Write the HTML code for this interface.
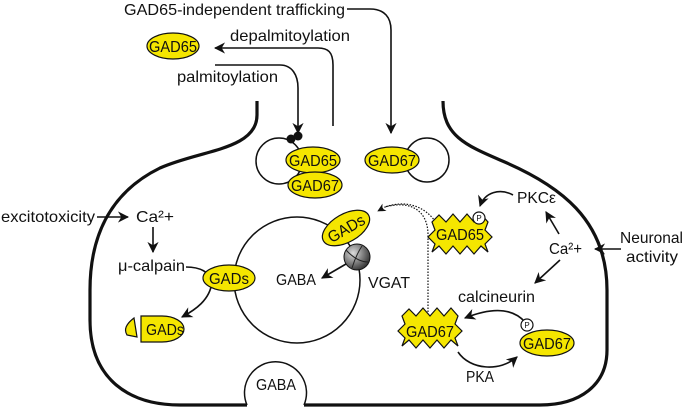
<!DOCTYPE html>
<html><head><meta charset="utf-8"><style>html,body{margin:0;padding:0;background:#fff}svg{display:block}text{font-family:"Liberation Sans",sans-serif;fill:#111}</style></head><body>
<svg width="685" height="408" viewBox="0 0 685 408" xmlns="http://www.w3.org/2000/svg">
<defs>
<marker id="a" viewBox="0 0 10 10" refX="9" refY="5" markerWidth="7" markerHeight="7" orient="auto-start-reverse"><path d="M0,0 L10,5 L0,10 L3,5 z" fill="#111"/></marker>
<radialGradient id="g" cx="0.35" cy="0.35" r="0.7"><stop offset="0" stop-color="#ddd"/><stop offset="1" stop-color="#333"/></radialGradient>
</defs>
<g fill="none" stroke="#111" stroke-width="3.2">
<path d="M257,101 L257,115 C257,150 200,150 160,168 C115,190 90,230 90,290 L90,320 C90,380 130,405 180,405 L247,405"/>
<path d="M304,405 L540,405 C580,405 607,385 607,350 L607,290 C607,220 560,185 500,160 C465,145 443,135 443,101"/>
</g>
<path d="M247,405 A31,31 0 1 1 304,405" fill="none" stroke="#111" stroke-width="1.5"/>
<g fill="none" stroke="#111" stroke-width="1.5">
<circle cx="297" cy="280" r="63"/>
<circle cx="279" cy="161" r="23"/>
<circle cx="427" cy="160" r="22"/>
</g>
<g fill="none" stroke="#111" stroke-width="1.6">
<path d="M347,9 L370,9 C385,9 391,18 391,30 L391,133" marker-end="url(#a)"/>
<path d="M333,126 L333,65 C333,52 328,48 318,48 L215,48" marker-end="url(#a)"/>
<path d="M215,65 L280,65 C292,65 298,75 298,88 L298,133" marker-end="url(#a)"/>
<path d="M97,217 L128,217" marker-end="url(#a)"/>
<path d="M153,227 L153,252" marker-end="url(#a)"/>
<path d="M186,267 C200,267 210,272 212,282 C210,300 195,310 182,317" marker-end="url(#a)"/>
<path d="M346,264 L322,278" marker-end="url(#a)"/>
<path d="M621,249 L595,249" marker-end="url(#a)"/>
<path d="M559,234 L546,212" marker-end="url(#a)"/>
<path d="M560,260 L535,283" marker-end="url(#a)"/>
<path d="M513,195 C500,188 485,192 480,206" marker-end="url(#a)"/>
<path d="M525,322 C510,305 485,310 465,318" marker-end="url(#a)"/>
<path d="M458,352 C470,370 500,372 517,357" marker-end="url(#a)"/>
</g>
<g fill="none" stroke="#111" stroke-width="1.2" stroke-dasharray="1.5,1.5">
<path d="M437,224 C425,205 405,200 385,207"/>
<path d="M428,318 L428,235 C428,210 410,200 385,207 L378,211" marker-end="url(#a)"/>
</g>
<g font-size="16">
<text x="124" y="15" textLength="221" lengthAdjust="spacingAndGlyphs">GAD65-independent trafficking</text>
<text x="230" y="41" textLength="120" lengthAdjust="spacingAndGlyphs">depalmitoylation</text>
<text x="177" y="82" textLength="101" lengthAdjust="spacingAndGlyphs">palmitoylation</text>
<text x="1" y="222" textLength="94" lengthAdjust="spacingAndGlyphs">excitotoxicity</text>
<text x="136" y="222" textLength="38" lengthAdjust="spacingAndGlyphs">Ca²+</text>
<text x="118" y="271" textLength="67" lengthAdjust="spacingAndGlyphs">μ-calpain</text>
<text x="276" y="285" textLength="40" lengthAdjust="spacingAndGlyphs">GABA</text>
<text x="368" y="288" textLength="42" lengthAdjust="spacingAndGlyphs">VGAT</text>
<text x="517" y="203" textLength="39" lengthAdjust="spacingAndGlyphs">PKCε</text>
<text x="549" y="254" textLength="33" lengthAdjust="spacingAndGlyphs">Ca²+</text>
<text x="620" y="243" textLength="63" lengthAdjust="spacingAndGlyphs">Neuronal</text>
<text x="626" y="262" textLength="52" lengthAdjust="spacingAndGlyphs">activity</text>
<text x="458" y="302" textLength="77" lengthAdjust="spacingAndGlyphs">calcineurin</text>
<text x="466" y="382" textLength="28" lengthAdjust="spacingAndGlyphs">PKA</text>
<text x="256" y="390" textLength="40" lengthAdjust="spacingAndGlyphs">GABA</text>
</g>
<g stroke="#111" stroke-width="1.2" fill="#f5e600">
<ellipse cx="173" cy="46" rx="26" ry="13"/>
<ellipse cx="313" cy="160" rx="27" ry="13"/>
<ellipse cx="315" cy="185" rx="27" ry="13"/>
<ellipse cx="392" cy="160" rx="27" ry="13"/>
<ellipse cx="229" cy="278" rx="26" ry="13"/>
<ellipse cx="346" cy="228" rx="26" ry="14" transform="rotate(-30 346 228)"/>
<path d="M141,316 L162,316 A22,13 0 0 1 162,342 L141,342 Z"/>
<path d="M134,318 Q122,327 127,335 L137,337 Z"/>
<ellipse cx="547" cy="343" rx="27" ry="13"/>
<polygon points="432,222 439,215 446,222 453,214 460,222 467,214 474,222 481,214 488,222 485,230 492,237 485,244 488,252 481,246 474,254 467,246 460,254 453,246 446,254 439,246 432,252 435,244 428,237 435,230"/>
<polygon points="402,316 409,309 416,316 423,308 430,316 437,308 444,316 451,308 458,316 455,324 462,331 455,338 458,346 451,340 444,348 437,340 430,348 423,340 416,348 409,340 402,346 405,338 398,331 405,324"/>
</g>
<circle cx="291" cy="139" r="4.5" fill="#111"/><circle cx="298" cy="136" r="4.5" fill="#111"/>
<circle cx="357" cy="257" r="13" fill="url(#g)" stroke="#111" stroke-width="1"/>
<path d="M346,250 Q357,262 368,262 M352,268 Q356,255 362,246" stroke="#222" fill="none" stroke-width="1"/>
<g fill="#fff" stroke="#111" stroke-width="1.2"><circle cx="479" cy="218" r="6"/><circle cx="527" cy="325" r="6"/></g>
<g font-size="8" text-anchor="middle"><text x="479" y="221">P</text><text x="527" y="328">P</text></g>
<g font-size="16" text-anchor="middle" lengthAdjust="spacingAndGlyphs">
<text x="173" y="52" textLength="48" lengthAdjust="spacingAndGlyphs">GAD65</text>
<text x="313" y="166" textLength="48" lengthAdjust="spacingAndGlyphs">GAD65</text>
<text x="315" y="191" textLength="48" lengthAdjust="spacingAndGlyphs">GAD67</text>
<text x="392" y="166" textLength="48" lengthAdjust="spacingAndGlyphs">GAD67</text>
<text x="229" y="284" textLength="40" lengthAdjust="spacingAndGlyphs">GADs</text>
<text x="346" y="234" transform="rotate(-30 346 228)" textLength="40" lengthAdjust="spacingAndGlyphs">GADs</text>
<text x="165" y="335" textLength="38" lengthAdjust="spacingAndGlyphs">GADs</text>
<text x="460" y="240" textLength="48" lengthAdjust="spacingAndGlyphs">GAD65</text>
<text x="430" y="337" textLength="48" lengthAdjust="spacingAndGlyphs">GAD67</text>
<text x="547" y="349" textLength="48" lengthAdjust="spacingAndGlyphs">GAD67</text>
</g>
</svg>
</body></html>
